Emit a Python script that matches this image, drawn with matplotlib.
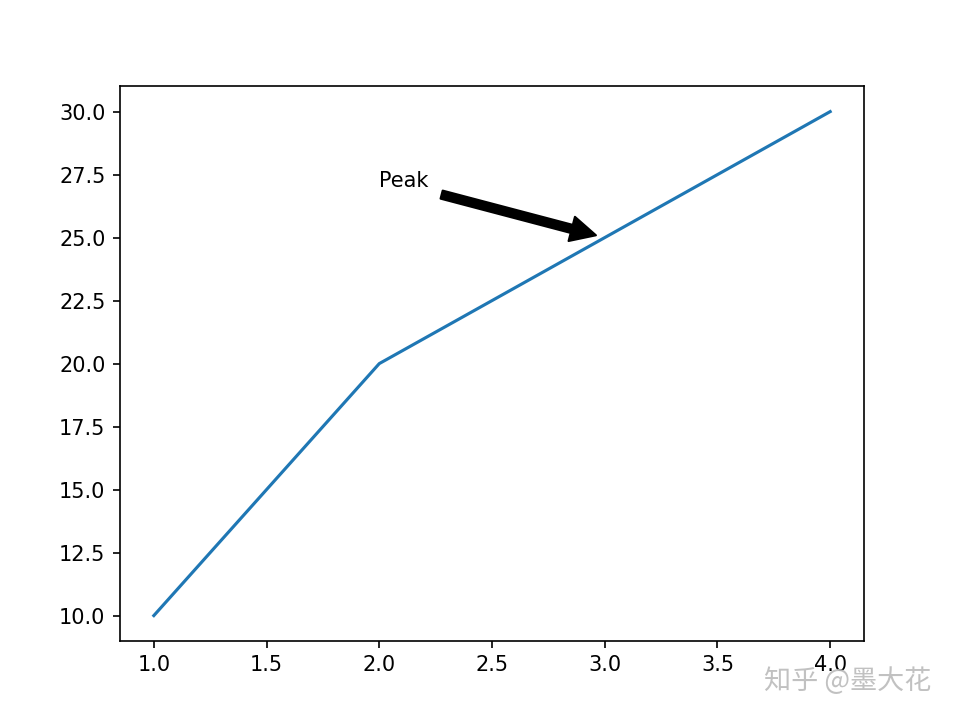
import matplotlib
matplotlib.use('Agg')
import matplotlib.pyplot as plt

x = [1, 2, 3, 4]
y = [10, 20, 25, 30]

fig, ax = plt.subplots(figsize=(6.4, 4.8), dpi=150)
ax.plot(x, y)
ax.annotate('Peak', xy=(3, 25), xytext=(2, 27),
            arrowprops=dict(facecolor='black', shrink=0.05))

# watermark
fig.text(0.97, 0.035, '知乎 @墨大花', ha='right', va='bottom', fontsize=13,
         color='#bbbbbb', alpha=0.9, family=['Noto Sans CJK SC', 'DejaVu Sans'])

plt.savefig('out.png')
